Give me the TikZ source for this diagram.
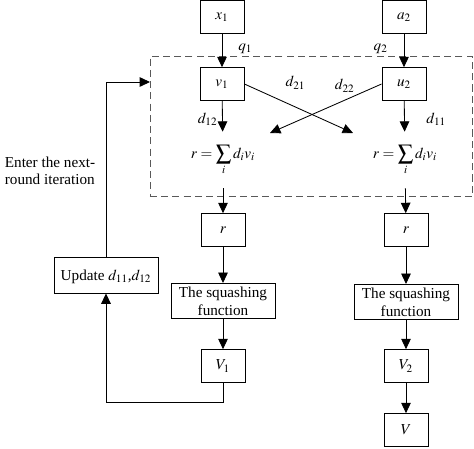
\documentclass[tikz,border=0pt]{standalone}
\usepackage{amssymb}
\usepackage{amsmath}
\usepackage{mathptmx}
\usepackage{fontspec}
\setmainfont{Liberation Serif}
\usepackage{tikz}
\usetikzlibrary{positioning,arrows.meta}

\begin{document}
\begin{tikzpicture}[x=0.025cm,y=-0.025cm,font=\fontsize{10.8}{12.5}\selectfont,
    box/.style={draw,line width=0.6pt,minimum width=1.1cm,minimum height=0.82cm,inner sep=0mm},
    widebox/.style={box,minimum width=2.6cm,minimum height=0.88cm,align=center,text depth=0pt},
    arr/.style={-{Triangle[length=2.6mm,width=2.4mm]},line width=0.6pt}]
    \useasboundingbox (0,0) rectangle (474,448);
    %%%%% THE ROUTING BLOCK
    \node[draw=black!65,dashed,line width=0.6pt,dash pattern=on 5pt off 3pt,
      minimum width=8.05cm,minimum height=3.52cm,inner sep=0mm] (LOOP) at (311,126.5) {};
    \begin{scope}[every node/.style={box}]
      \node (X1) at (222,17) {$x_1$};
      \node (A2) at (404,17) {$a_2$};
      \node (V1IN) at (222,84) {$v_1$};
      \node (U2) at (404,84) {$u_2$};
    \end{scope}
    \node[minimum height=1.4cm,inner sep=0mm] (SUML) at (223,160) {$\displaystyle r=\sum_{i} d_i v_i$};
    \node[minimum height=1.4cm,inner sep=0mm] (SUMR) at (405,160) {$\displaystyle r=\sum_{i} d_i v_i$};
    \coordinate (CROSSR) at (353,133);
    \coordinate (CROSSL) at (270,133);
    %%%%% THE TWO OUTPUT COLUMNS
    \begin{scope}[every node/.style={box}]
      \node (RL) at (223,230) {$r$};
      \node (RR) at (406,230) {$r$};
      \node (OUT1) at (223,366) {$V_1$};
      \node (OUT2) at (406,366) {$V_2$};
      \node (OUT) at (406,430) {$V$};
    \end{scope}
    \node[widebox] (SQL) at (223,301) {The squashing\\function};
    \node[widebox] (SQR) at (406,302) {The squashing\\function};
    \node[widebox,minimum height=0.9cm] (UPD) at (106,275) {Update $d_{11}$,$d_{12}$};
    \node[align=left] (ENTER) at (50,171) {Enter the next-\\round iteration};
    \coordinate (ENTRY) at (150,82);
    %%%% LINKS
    \draw[arr] (X1) -- node[right,pos=0.45,xshift=8pt] {$q_1$} (V1IN);
    \draw[arr] (A2) -- node[left,pos=0.45,xshift=-8pt] {$q_2$} (U2);
    \draw[arr] (V1IN) -- node[left,pos=0.6] {$d_{12}$} (SUML);
    \draw[arr] (U2) -- node[right,pos=0.6,xshift=12pt] {$d_{11}$} (SUMR);
    \draw[arr] (V1IN.east) -- node[above,pos=0.47,yshift=9pt] {$d_{21}$} (CROSSR);
    \draw[arr] (U2.west) -- node[above,pos=0.33,yshift=2pt] {$d_{22}$} (CROSSL);
    \draw[arr] (SUML) -- (RL);
    \draw[arr] (SUMR) -- (RR);
    \draw[arr] (RL) -- (SQL);
    \draw[arr] (SQL) -- (OUT1);
    \draw[arr] (RR) -- (SQR);
    \draw[arr] (SQR) -- (OUT2);
    \draw[arr] (OUT2) -- (OUT);
    \draw[arr] (OUT1.south) -- ++(0,20) -| (UPD.south);
    \draw[arr] (UPD.north) |- (ENTRY);
  \end{tikzpicture}
\end{document}
